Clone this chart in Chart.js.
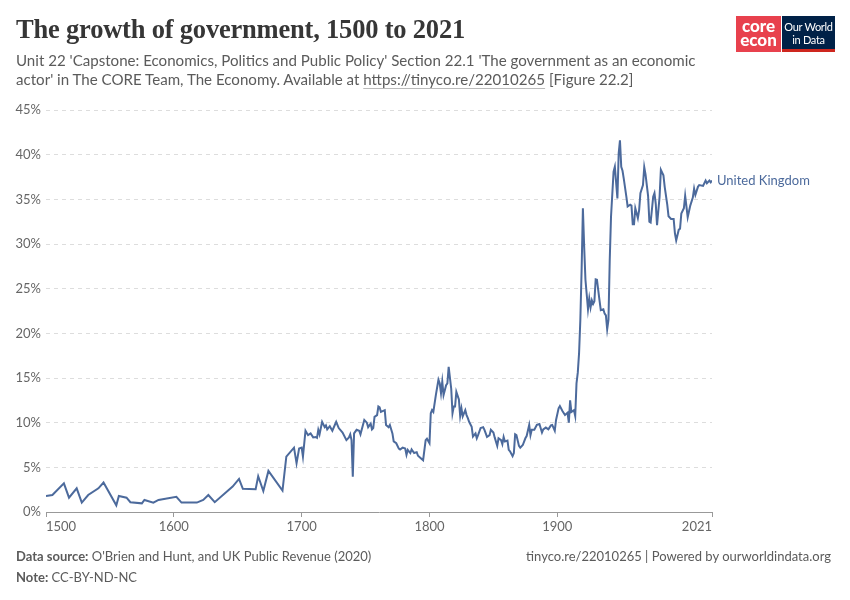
<!DOCTYPE html>
<html>
<head>
<meta charset="utf-8">
<script src="https://cdn.jsdelivr.net/npm/chart.js@4"></script>
<style>
  body { margin: 0; width: 850px; height: 600px; position: relative; background: #fff; font-family: Lato, "Noto Sans", sans-serif; overflow: hidden; }
  #chart { position: absolute; left: 0; top: 0; }
  .title { position: absolute; left: 16px; top: 14px; font-family: "Liberation Serif", serif; font-size: 26.5px; font-weight: bold; color: #363636; letter-spacing: -0.2px; }
  .subtitle { position: absolute; left: 16px; top: 51px; width: 690px; font-size: 15.1px; line-height: 19px; color: #5b5b5b; }
  .subtitle u { text-decoration-color: #bbb; text-underline-offset: 3px; }
  .logo { position: absolute; top: 16px; left: 736px; height: 36px; display: flex; }
  .core { width: 45px; background: #e8414d; color: #fff; font-weight: 900; font-size: 17px; line-height: 14px; text-align: center; padding-top: 3px; box-sizing: border-box; }
  .owid { width: 53px; margin-left: 1px; background: #002147; color: #fff; font-size: 11px; line-height: 13px; text-align: center; padding-top: 4px; box-sizing: border-box; border-bottom: 3px solid #ce261e; white-space: nowrap; letter-spacing: -0.3px; }
  .foot { position: absolute; font-size: 13px; color: #5b5b5b; }
  .foot b { font-weight: 700; color: #5b5b5b; }
</style>
</head>
<body>
<canvas id="chart" width="850" height="600"></canvas>
<div class="title">The growth of government, 1500 to 2021</div>
<div class="subtitle">Unit 22 'Capstone: Economics, Politics and Public Policy' Section 22.1 'The government as an economic actor' in The CORE Team, The Economy. Available at <u>https://tinyco.re/22010265</u> [Figure 22.2]</div>
<div class="logo"><div class="core">core<br>econ</div><div class="owid">Our World<br>in Data</div></div>
<div class="foot" style="left:16px; top:548px;"><b>Data source:</b> O'Brien and Hunt, and UK Public Revenue (2020)</div>
<div class="foot" style="left:16px; top:569px;"><b>Note:</b> CC-BY-ND-NC</div>
<div class="foot" style="right:19px; top:548px;">tinyco.re/22010265 | Powered by ourworldindata.org</div>
<script>
const seriesName = 'United Kingdom';

// years and government revenue share (% of GDP), row by row in step
const years = [
  1500, 1505, 1514, 1518, 1524, 1528, 1533, 1541, 1545, 1555, 1557, 1563, 1566, 1575, 1577, 1584, 1588,
  1602, 1606, 1618, 1623, 1627, 1632, 1646, 1651, 1654, 1664, 1666, 1670, 1674, 1685, 1688, 1694, 1696,
  1698, 1700, 1701, 1703, 1705, 1707, 1709, 1711, 1712, 1713, 1714, 1716, 1718, 1719, 1720, 1722, 1724,
  1727, 1729, 1732, 1735, 1737, 1738, 1739, 1740, 1741, 1743, 1745, 1746, 1749, 1751, 1752, 1754, 1755,
  1756, 1757, 1759, 1760, 1761, 1762, 1765, 1766, 1768, 1769, 1771, 1772, 1774, 1776, 1777, 1779, 1781,
  1782, 1783, 1785, 1786, 1788, 1790, 1791, 1793, 1795, 1797, 1798, 1800, 1801, 1802, 1803, 1805, 1807,
  1808, 1809, 1810, 1811, 1813, 1814, 1815, 1817, 1818, 1819, 1820, 1821, 1823, 1824, 1825, 1826, 1828,
  1829, 1830, 1831, 1833, 1834, 1836, 1837, 1838, 1840, 1842, 1843, 1845, 1847, 1848, 1850, 1851, 1853,
  1854, 1856, 1857, 1858, 1859, 1861, 1862, 1863, 1865, 1866, 1867, 1868, 1870, 1871, 1873, 1875, 1876,
  1878, 1879, 1880, 1882, 1884, 1886, 1888, 1889, 1891, 1893, 1895, 1896, 1898, 1899, 1901, 1902, 1904,
  1906, 1908, 1909, 1910, 1911, 1913, 1914, 1915, 1916, 1917, 1918, 1919, 1920, 1921, 1922, 1924, 1925,
  1926, 1927, 1928, 1929, 1930, 1931, 1933, 1934, 1936, 1937, 1938, 1939, 1940, 1941, 1942, 1944, 1945,
  1947, 1948, 1949, 1950, 1951, 1952, 1954, 1955, 1957, 1958, 1959, 1960, 1961, 1963, 1964, 1965, 1967,
  1968, 1969, 1971, 1972, 1973, 1975, 1976, 1977, 1978, 1980, 1981, 1983, 1984, 1986, 1987, 1989, 1991,
  1992, 1993, 1995, 1996, 1997, 1999, 2000, 2002, 2004, 2006, 2007, 2008, 2010, 2011, 2014, 2016, 2017,
  2019, 2020, 2021
];

const shares = [
  1.8, 1.9, 3.2, 1.6, 2.65, 1.05, 1.9, 2.65, 3.3, 0.75, 1.8, 1.6, 1.1, 0.97, 1.35, 1.05, 1.35,
  1.7, 1.05, 1.05, 1.35, 1.9, 1.1, 2.85, 3.7, 2.6, 2.55, 4.0, 2.35, 4.6, 2.4, 6.2, 7.2, 5.45,
  7.1, 7.2, 6.2, 9.1, 8.6, 8.8, 8.35, 8.4, 8.3, 9.2, 8.7, 10.1, 9.5, 9.7, 9.25, 9.6, 9.1,
  10.1, 9.4, 8.9, 8.05, 8.35, 8.7, 8.05, 3.95, 8.8, 9.2, 9.1, 8.7, 10.3, 10.0, 9.5, 9.9, 9.25,
  9.4, 10.65, 10.85, 11.8, 11.7, 11.2, 11.4, 9.75, 9.5, 9.75, 8.8, 7.9, 7.7, 7.1, 7.0, 7.2, 7.1,
  6.4, 6.95, 6.6, 7.0, 6.6, 6.7, 6.3, 6.05, 5.8, 8.05, 8.2, 7.7, 11.05, 11.4, 11.2, 13.1, 14.8,
  14.4, 13.3, 14.6, 13.1, 14.2, 14.4, 16.25, 13.8, 11.05, 11.8, 11.8, 13.45, 12.6, 10.75, 11.6, 10.7, 11.4,
  10.85, 10.5, 10.1, 9.55, 8.45, 8.8, 8.25, 8.6, 9.4, 9.5, 9.2, 8.4, 8.6, 9.2, 8.9, 8.35, 7.4,
  8.25, 8.05, 7.6, 8.4, 7.9, 8.0, 6.95, 6.8, 6.25, 6.6, 8.7, 8.6, 7.4, 7.2, 7.5, 8.25, 8.5,
  9.75, 8.6, 9.2, 9.2, 9.75, 9.85, 8.9, 9.25, 9.45, 9.25, 9.7, 9.75, 9.1, 10.3, 11.6, 11.85, 11.3,
  10.85, 11.1, 10.0, 12.5, 11.2, 11.4, 10.75, 14.4, 15.6, 17.75, 21.5, 27.1, 34.0, 29.7, 26.0, 22.7, 23.9,
  22.9, 23.7, 23.3, 23.6, 26.05, 26.0, 23.7, 22.6, 22.7, 22.2, 22.0, 20.45, 21.5, 28.2, 33.05, 38.1, 38.65,
  35.1, 40.15, 41.6, 38.65, 38.2, 37.3, 35.3, 34.2, 34.4, 34.3, 32.2, 32.2, 34.0, 32.9, 33.8, 35.7, 36.6,
  38.6, 37.8, 35.4, 32.5, 32.4, 35.3, 35.7, 34.5, 32.1, 35.3, 38.3, 37.7, 36.4, 34.4, 33.1, 32.8, 32.8,
  31.2, 30.4, 31.6, 31.7, 33.4, 34.0, 35.4, 33.0, 34.3, 35.2, 36.2, 35.5, 36.4, 36.6, 36.5, 37.1, 36.8,
  37.1, 36.9, 37.1
];

const xTicks = [1500, 1600, 1700, 1800, 1900, 2021];
const yTicks = [0, 5, 10, 15, 20, 25, 30, 35, 40, 45];

const lineColor = '#4c6a9c';

const endLabel = {
  id: 'endLabel',
  afterDatasetsDraw(chart) {
    const meta = chart.getDatasetMeta(0);
    const last = meta.data[meta.data.length - 1];
    const ctx = chart.ctx;
    ctx.save();
    ctx.font = '13px Lato';
    ctx.fillStyle = lineColor;
    ctx.textBaseline = 'middle';
    ctx.fillText(seriesName, last.x + 5, last.y);
    ctx.restore();
  }
};

const ctx = document.getElementById('chart').getContext('2d');

const chart = new Chart(ctx, {
  type: 'line',
  data: {
    datasets: [{
      label: seriesName,
      data: years.map((y, i) => ({ x: y, y: shares[i] })),
      borderColor: lineColor,
      borderWidth: 2,
      pointRadius: 0,
      tension: 0,
      fill: false
    }]
  },
  options: {
    responsive: false,
    animation: false,
    layout: { padding: { left: 0, top: 110, right: 138, bottom: 68 } },
    plugins: {
      legend: { display: false },
      tooltip: { enabled: false }
    },
    scales: {
      x: {
        type: 'linear',
        min: 1500,
        max: 2021,
        afterBuildTicks: axis => { axis.ticks = xTicks.map(v => ({ value: v })); },
        afterFit: axis => { axis.height = 20; },
        border: { display: true, color: '#999' },
        grid: { drawOnChartArea: false, drawTicks: true, tickLength: 5, color: '#999' },
        ticks: {
          align: 'inner',
          maxRotation: 0,
          padding: 2,
          color: '#666',
          font: { family: 'Lato', size: 13 },
          callback: v => String(v)
        }
      },
      y: {
        min: 0,
        max: 45,
        afterBuildTicks: axis => { axis.ticks = yTicks.map(v => ({ value: v })); },
        afterFit: axis => { axis.width = 46; },
        border: { display: false, dash: [4, 4] },
        grid: { color: '#dddddd', drawTicks: false },
        ticks: {
          padding: 5,
          color: '#666',
          font: { family: 'Lato', size: 13 },
          callback: v => v + '%'
        }
      }
    }
  },
  plugins: [endLabel]
});
</script>
</body>
</html>
